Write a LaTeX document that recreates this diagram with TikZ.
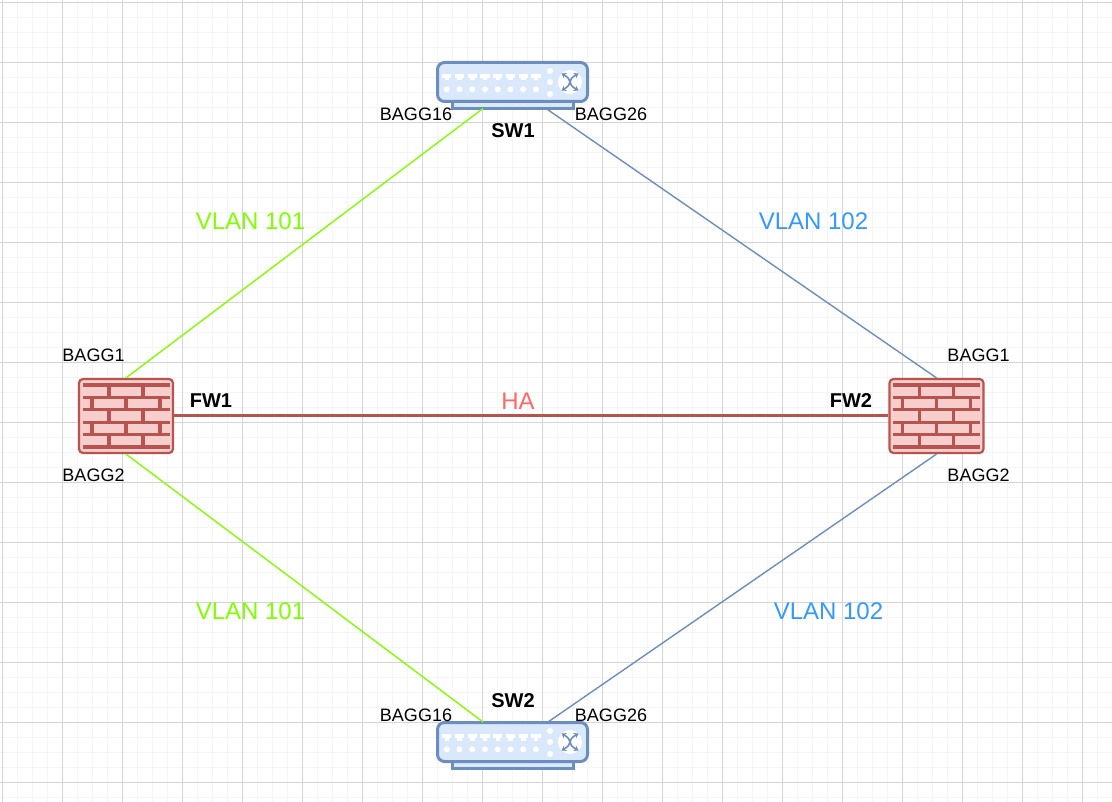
\documentclass[tikz,border=0pt]{standalone}
\usepackage{fontspec}
\setmainfont{Liberation Sans}
\usetikzlibrary{arrows.meta}
\definecolor{fwred}{HTML}{B85450}
\definecolor{fwfill}{HTML}{F8CECC}
\definecolor{swblue}{HTML}{6C8EBF}
\definecolor{swfill}{HTML}{DAE8FC}
\definecolor{vlangreen}{HTML}{80FF00}
\definecolor{vlanblue}{HTML}{3399FF}
\definecolor{hared}{HTML}{FF6666}
\definecolor{gridmajor}{HTML}{D5D5D5}
\definecolor{gridminor}{HTML}{F5F5F5}
\tikzset{
	fwbox/.style={rectangle, rounded corners=4pt, minimum width=94pt, minimum height=74pt, inner sep=0pt, fill=fwfill, draw=fwred, line width=2.2pt},
	swbox/.style={rectangle, rounded corners=7pt, minimum width=150pt, minimum height=39pt, inner sep=0pt, fill=swfill, draw=swblue, line width=3pt},
	swbase/.style={rectangle, minimum width=121pt, minimum height=7pt, inner sep=0pt, fill=swfill, draw=swblue, line width=2.6pt},
	port/.style={text=black, font=\fontsize{18}{20}\selectfont},
	devname/.style={text=black, font=\fontsize{20}{22}\selectfont\bfseries},
	vlanlabel/.style={font=\fontsize{24}{26}\selectfont},
	fwicon/.pic={
		\foreach \y in {-31,-18.6,-6.2,6.2,18.6,31}
			\draw [fwred, line width=3.2pt] (-43.5pt,\y pt) -- (43.5pt,\y pt);
		\foreach \y in {-24.8,0,24.8}
			\foreach \x in {-17,17}
				\draw [fwred, line width=3.2pt] (\x pt,\y pt-6.2pt) -- (\x pt,\y pt+6.2pt);
		\foreach \y in {-12.4,12.4}
			\foreach \x in {-34,0,34}
				\draw [fwred, line width=3.2pt] (\x pt,\y pt-6.2pt) -- (\x pt,\y pt+6.2pt);
	},
	swicon/.pic={
		\foreach \i in {0,...,7} {
			\fill [white] (-70.5pt+\i*12.75pt,8pt) rectangle +(9.4pt,-4pt);
			\fill [white] (-68pt+\i*12.75pt,4.5pt) rectangle +(4.6pt,-3pt);
			\fill [white] (-65.8pt+\i*12.75pt,-7.3pt) circle (3pt);
		}
		\foreach \y in {11,0,-12}
			\fill [white] (37.5pt,\y pt) circle (3pt);
		\fill [white] (57.5pt,0pt) circle (12pt);
		\draw [swblue, line width=1.6pt, {Stealth[length=4.5pt,width=6pt]}-{Stealth[length=4.5pt,width=6pt]}] (49pt,8.5pt) .. controls (59.5pt,2.5pt) and (59.5pt,-2.5pt) .. (49pt,-8.5pt);
		\draw [swblue, line width=1.6pt, {Stealth[length=4.5pt,width=6pt]}-{Stealth[length=4.5pt,width=6pt]}] (66pt,8.5pt) .. controls (55.5pt,2.5pt) and (55.5pt,-2.5pt) .. (66pt,-8.5pt);
	},
}
\begin{document}
\begin{tikzpicture}
	\useasboundingbox (0pt,0pt) rectangle (1112pt,-802pt);
	\fill [white] (0pt,0pt) rectangle (1112pt,-802pt);
	% grid
	\foreach \x in {2.5,17.5,...,1112}
		\draw [gridminor, line width=1pt] (\x pt,0pt) -- (\x pt,-802pt);
	\foreach \y in {2.5,17.5,...,802}
		\draw [gridminor, line width=1pt] (0pt,-\y pt) -- (1112pt,-\y pt);
	\foreach \x in {2.5,62.5,...,1112}
		\draw [gridmajor, line width=1pt] (\x pt,0pt) -- (\x pt,-802pt);
	\foreach \y in {2.5,62.5,...,802}
		\draw [gridmajor, line width=1pt] (0pt,-\y pt) -- (1112pt,-\y pt);
	% devices
	\node (sw1base) [swbase] at (513pt, -105pt) {};
	\node (sw1) [swbox] at (512.5pt, -82pt) {};
	\pic at (sw1) {swicon};
	\node (sw2base) [swbase] at (513pt, -765pt) {};
	\node (sw2) [swbox] at (512.5pt, -742pt) {};
	\pic at (sw2) {swicon};
	\node (fw1) [fwbox] at (126pt, -416pt) {};
	\pic at (fw1) {fwicon};
	\node (fw2) [fwbox] at (936.5pt, -416pt) {};
	\pic at (fw2) {fwicon};
	% link ends on the switches
	\coordinate (sw1a) at (483pt, -108.5pt);
	\coordinate (sw1b) at (546pt, -108.5pt);
	\coordinate (sw2a) at (483pt, -722pt);
	\coordinate (sw2b) at (548pt, -722pt);
	% links
	\draw [line width=1.4pt, color=vlangreen] (fw1.north) to (sw1a);
	\draw [line width=1.4pt, color=vlangreen] (fw1.south) to (sw2a);
	\draw [line width=1.4pt, color=swblue] (fw2.north) to (sw1b);
	\draw [line width=1.4pt, color=swblue] (fw2.south) to (sw2b);
	\draw [line width=3pt, color=fwred] (fw1.east) to (fw2.west);
	% labels
	\node (l1) [port] at (416pt, -114pt) {BAGG16};
	\node (l2) [port] at (611pt, -114pt) {BAGG26};
	\node (l3) [devname] at (513pt, -131pt) {SW1};
	\node (l4) [port] at (416pt, -715pt) {BAGG16};
	\node (l5) [port] at (611pt, -715pt) {BAGG26};
	\node (l6) [devname] at (513pt, -701pt) {SW2};
	\node (l7) [port] at (93.5pt, -355pt) {BAGG1};
	\node (l8) [port] at (93.5pt, -475pt) {BAGG2};
	\node (l9) [port] at (978.5pt, -355pt) {BAGG1};
	\node (l10) [port] at (978.5pt, -475pt) {BAGG2};
	\node (l11) [devname] at (211pt, -401pt) {FW1};
	\node (l12) [devname] at (851pt, -401pt) {FW2};
	\node (l13) [vlanlabel, text=hared] at (518pt, -401pt) {HA};
	\node (l14) [vlanlabel, text=vlangreen] at (250.5pt, -221pt) {VLAN 101};
	\node (l15) [vlanlabel, text=vlangreen] at (250.5pt, -611pt) {VLAN 101};
	\node (l16) [vlanlabel, text=vlanblue] at (813.5pt, -221pt) {VLAN 102};
	\node (l17) [vlanlabel, text=vlanblue] at (828.5pt, -611pt) {VLAN 102};
\end{tikzpicture}
\end{document}
